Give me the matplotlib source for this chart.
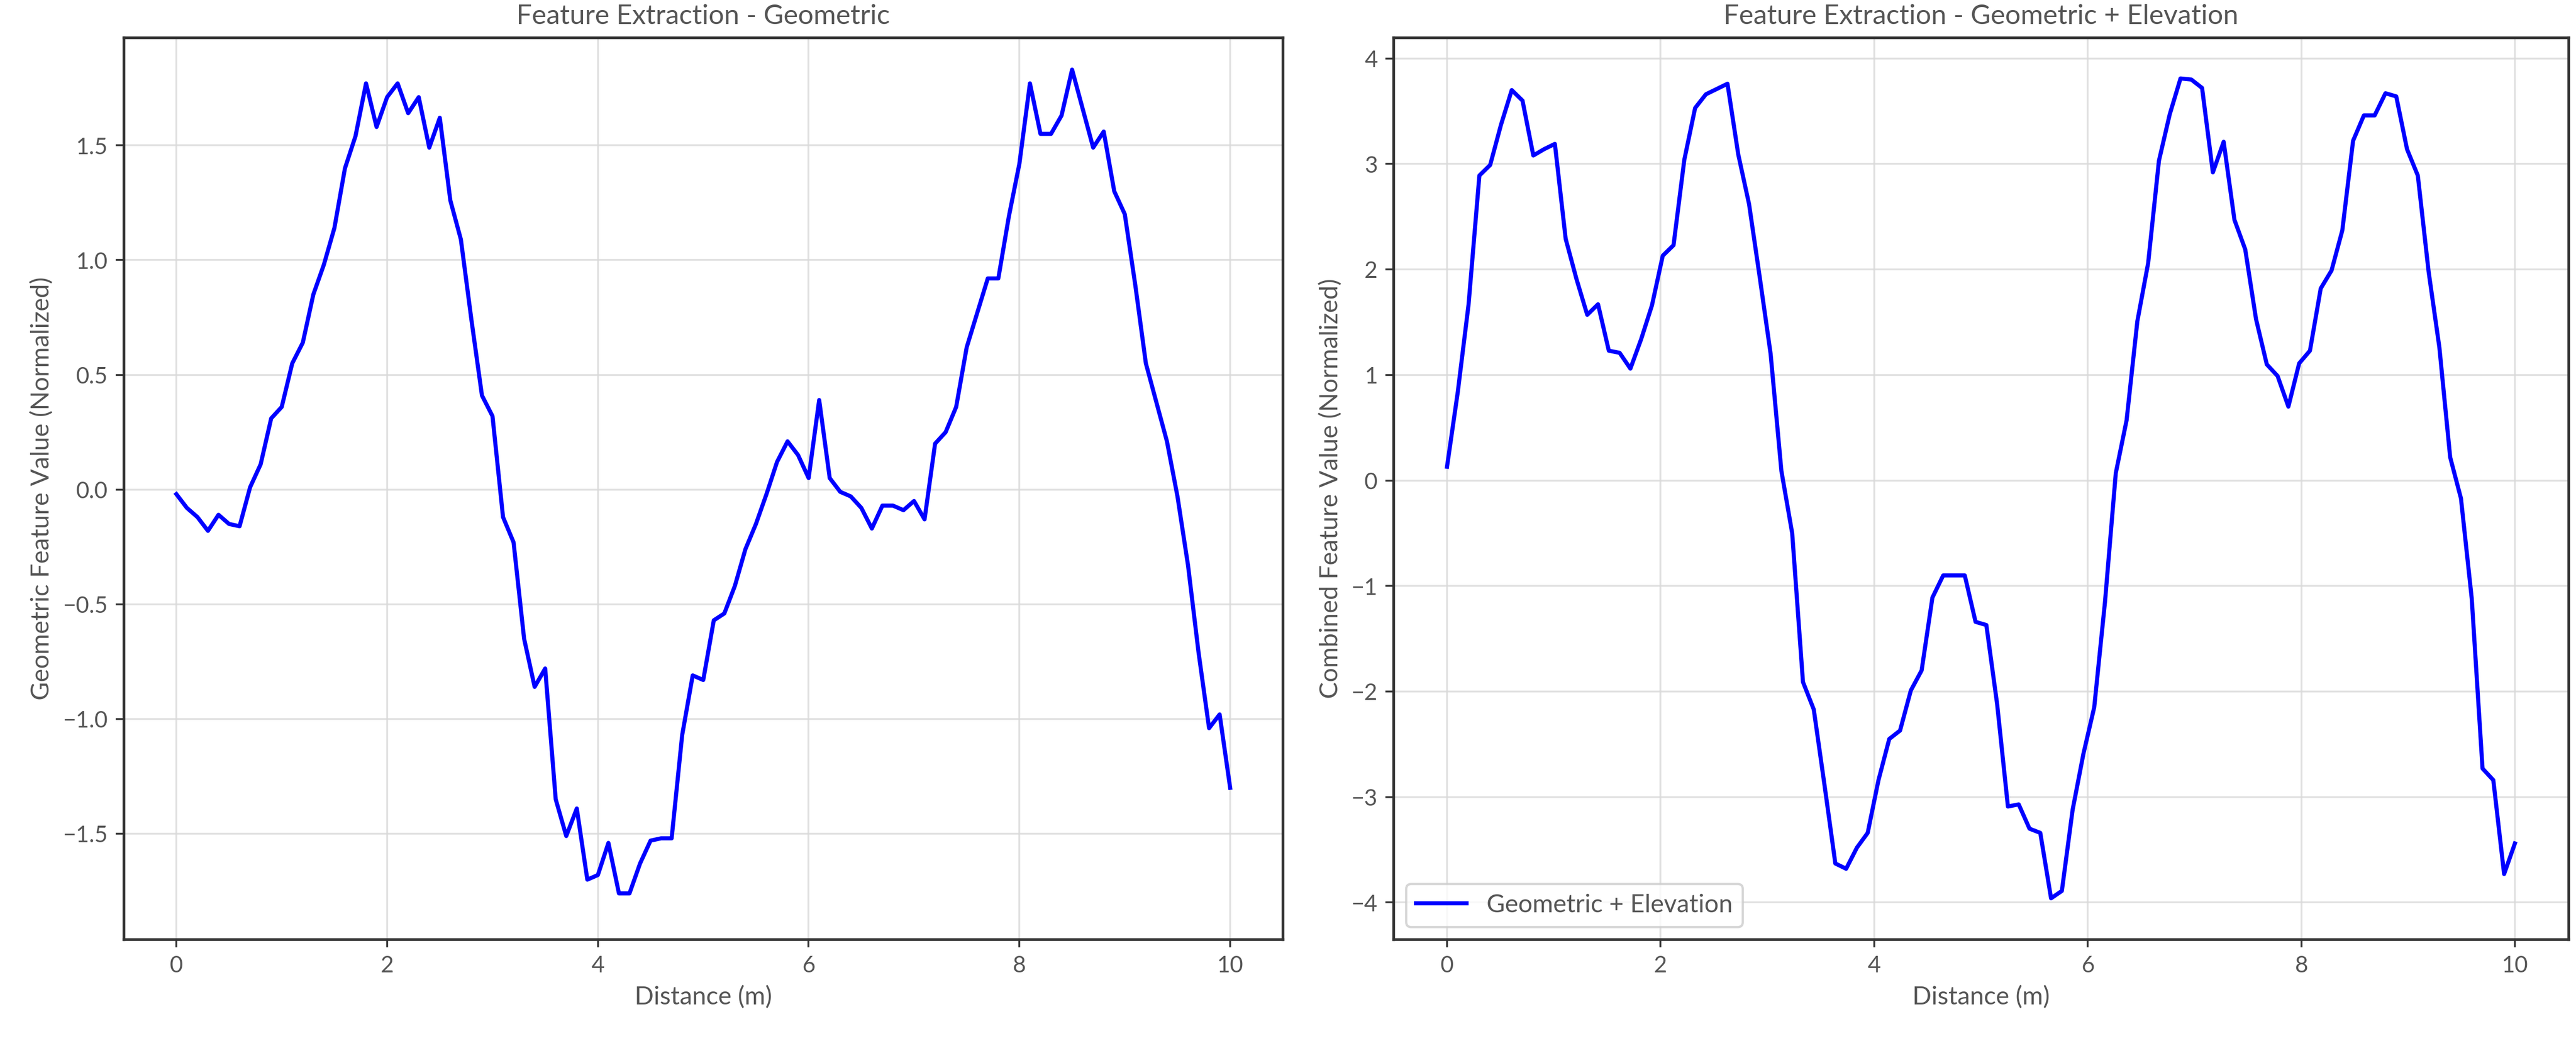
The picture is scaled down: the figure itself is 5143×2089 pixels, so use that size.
import numpy as np
import matplotlib
matplotlib.use("Agg")
import matplotlib.pyplot as plt

geometric = [-0.02, -0.08, -0.12, -0.18, -0.11, -0.15, -0.16, 0.01, 0.11, 0.31,
             0.36, 0.55, 0.64, 0.85, 0.98, 1.14, 1.40, 1.54, 1.77, 1.58,
             1.71, 1.77, 1.64, 1.71, 1.49, 1.62, 1.26, 1.09, 0.74, 0.41,
             0.32, -0.12, -0.23, -0.65, -0.86, -0.78, -1.35, -1.51, -1.39, -1.70,
             -1.68, -1.54, -1.76, -1.76, -1.63, -1.53, -1.52,
             -1.52, -1.07, -0.81, -0.83, -0.57, -0.54, -0.42, -0.26, -0.15, -0.02,
             0.12, 0.21, 0.15, 0.05, 0.39, 0.05, -0.01, -0.03, -0.08, -0.17,
             -0.07, -0.07, -0.09, -0.05, -0.13, 0.20, 0.25, 0.36, 0.62, 0.77,
             0.92, 0.92, 1.19, 1.42, 1.77, 1.55, 1.55, 1.63, 1.83, 1.66,
             1.49, 1.56, 1.30, 1.20, 0.89, 0.55, 0.38, 0.21, -0.03, -0.33,
             -0.71, -1.04, -0.98, -1.30]

combined = [0.13, 0.84, 1.67, 2.89, 2.99, 3.37, 3.70, 3.60, 3.08, 3.14,
            3.19, 2.29, 1.91, 1.57, 1.67, 1.23, 1.21, 1.06, 1.34, 1.66,
            2.13, 2.23, 3.04, 3.53, 3.66, 3.71, 3.76, 3.09, 2.62, 1.92,
            1.20, 0.09, -0.50, -1.91, -2.17, -2.89, -3.63, -3.68, -3.48, -3.34,
            -2.84, -2.45, -2.37, -1.99, -1.80, -1.11, -0.90, -0.90, -0.90,
            -1.34, -1.37, -2.12, -3.09, -3.07, -3.30, -3.34, -3.96, -3.89, -3.12,
            -2.59, -2.15, -1.15, 0.07, 0.57, 1.51, 2.06, 3.03, 3.47, 3.81,
            3.80, 3.72, 2.92, 3.21, 2.47, 2.19, 1.53, 1.10, 0.99, 0.70,
            1.11, 1.23, 1.82, 1.99, 2.37, 3.22, 3.46, 3.46, 3.67, 3.64,
            3.14, 2.89, 1.98, 1.26, 0.22, -0.17, -1.12, -2.73, -2.84, -3.73,
            -3.44]

x_geo = np.linspace(0, 10, len(geometric))
x_comb = np.linspace(0, 10, len(combined))

plt.rcParams['font.family'] = ['Lato', 'DejaVu Sans']
text_col = '#555555'

fig = plt.figure(figsize=(15.68, 6.37), dpi=328)
ax1 = fig.add_axes([0.048, 0.102, 0.45, 0.862])
ax2 = fig.add_axes([0.541, 0.102, 0.456, 0.862])

for ax in (ax1, ax2):
    ax.grid(True, color='#d9d9d9', linewidth=0.8, alpha=0.8)
    ax.set_axisbelow(True)
    for s in ax.spines.values():
        s.set_color('#333333')
        s.set_linewidth(1.2)
    ax.tick_params(colors='#333333', labelcolor=text_col, labelsize=10)
    ax.set_xlabel('Distance (m)', color=text_col, fontsize=11)
    ax.set_xticks([0, 2, 4, 6, 8, 10])

ax1.plot(x_geo, geometric, color='blue', linewidth=1.8)
ax1.set_ylim(-1.96, 1.97)
ax1.set_title('Feature Extraction - Geometric', color=text_col, fontsize=12)
ax1.set_ylabel('Geometric Feature Value (Normalized)', color=text_col, fontsize=11)

ax2.plot(x_comb, combined, color='blue', linewidth=1.8, label='Geometric + Elevation')
ax2.set_title('Feature Extraction - Geometric + Elevation', color=text_col, fontsize=12)
ax2.set_ylabel('Combined Feature Value (Normalized)', color=text_col, fontsize=11)
leg = ax2.legend(loc='lower left', fontsize=11)
for t in leg.get_texts():
    t.set_color(text_col)

fig.savefig('out.png', dpi=328)
